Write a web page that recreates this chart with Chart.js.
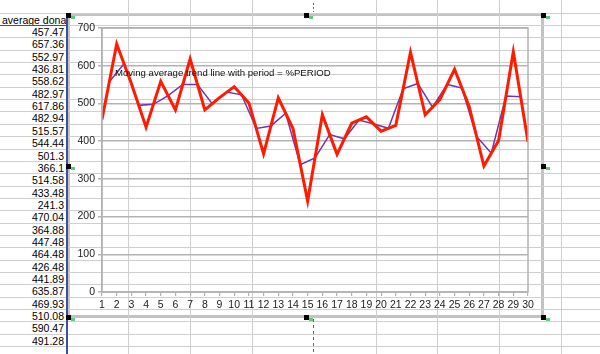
<!DOCTYPE html>
<html>
<head>
<meta charset="utf-8">
<script src="https://cdn.jsdelivr.net/npm/chart.js@4.4.0/dist/chart.umd.min.js"></script>
<style>
  html, body { margin: 0; padding: 0; background: #fff; }
  #sheet { position: relative; width: 600px; height: 354px; overflow: hidden; font-family: "Liberation Sans", Arial, sans-serif; }
  .hl { position: absolute; height: 1px; background: #cfcfcf; }
  .vl { position: absolute; width: 1px; background: #cfcfcf; }
  .cell { position: absolute; left: 0; width: 64px; font-size: 10.5px; text-align: right; color: #000; line-height: 12px; }
  #frame { position: absolute; left: 67px; top: 13px; width: 477px; height: 305px; box-sizing: border-box; border: 3px solid #c2c2c2; background: #fff; }
  #chart { position: absolute; left: 0; top: 0; z-index: 2; }
  #note { position: absolute; left: 115px; top: 67px; font-size: 9.6px; color: #111; z-index: 3; white-space: nowrap; }
  .hd { position: absolute; width: 5px; height: 5px; background: #000; z-index: 4; }
  .gr { position: absolute; width: 4px; height: 3px; background: #62c985; z-index: 4; }
</style>
</head>
<body>
<div id="sheet">
  <canvas id="chart" width="600" height="354"></canvas>
  <div id="note">Moving average trend line with period = %PERIOD</div>
</div>
<script>
// x categories
const periods = [1, 2, 3, 4, 5, 6, 7, 8, 9, 10, 11, 12, 13, 14, 15, 16, 17, 18, 19, 20, 21, 22, 23, 24, 25, 26, 27, 28, 29, 30];
// average donation per period
const donations = [457.47, 657.36, 552.97, 436.81, 558.62, 482.97, 617.86, 482.94, 515.57, 544.44,
                   501.3, 366.1, 514.58, 433.48, 241.3, 470.04, 364.88, 447.48, 464.48, 426.48,
                   441.89, 635.87, 469.93, 510.08, 590.47, 491.28, 334, 402, 637, 398];
const yTicks = [0, 100, 200, 300, 400, 500, 600, 700];
const headerText = 'average donations';
const trendPeriod = 2;

const sheet = document.getElementById('sheet');

function addDiv(cls, css, text) {
    const d = document.createElement('div');
    d.className = cls;
    Object.assign(d.style, css);
    if (text !== undefined) d.textContent = text;
    sheet.appendChild(d);
    return d;
}

// spreadsheet rows and columns behind the chart
for (let k = -1; k <= 26; k++) {
    const y = Math.round(25 + 12.35 * k);
    addDiv('hl', { left: '0px', top: y + 'px', width: '600px' });
}
[128, 190, 252, 376, 437, 499, 561].forEach(function(x) {
    addDiv('vl', { left: x + 'px', top: '0px', height: '354px' });
});
// page break marks
addDiv('vl', { left: '313px', top: '3px', height: '9px', background: 'repeating-linear-gradient(#666 0 2px, transparent 2px 4px)' });
addDiv('vl', { left: '313px', top: '319px', height: '35px', background: 'repeating-linear-gradient(#666 0 3px, transparent 3px 6px)' });

// column with the data
addDiv('cell', { top: '14px', textAlign: 'left', left: '2px', width: '64px', overflow: 'hidden', whiteSpace: 'nowrap', background: '#fff' }, headerText);
addDiv('hl', { left: '0px', top: '25px', width: '67px', background: '#3b4f9c' });
donations.slice(0, 26).forEach(function(v, i) {
    const top = Math.round(25 + 12.35 * i + 1);
    addDiv('cell', { top: top + 'px' }, String(v));
});
addDiv('vl', { left: '66px', top: '13px', height: '341px', width: '2px', background: '#3b4f9c' });

// chart object frame
const frame = addDiv('', {});
frame.id = 'frame';
sheet.insertBefore(frame, document.getElementById('chart'));

// selection handles
[[68, 15], [306, 15], [543, 15], [68, 166], [543, 166], [68, 317], [306, 317], [543, 317]].forEach(function(p) {
    addDiv('hd', { left: (p[0] - 2) + 'px', top: (p[1] - 2) + 'px' });
    addDiv('gr', { left: (p[0] + 3) + 'px', top: (p[1] + 1) + 'px' });
});

// moving average (trend line), drawn between categories
const movingAvg = [];
for (let i = trendPeriod - 1; i < donations.length; i++) {
    let s = 0;
    for (let j = 0; j < trendPeriod; j++) s += donations[i - j];
    movingAvg.push({ x: periods[i] - (trendPeriod - 1) / 2, y: s / trendPeriod });
}

const plotBorder = {
    id: 'plotBorder',
    afterDraw(chart) {
        const a = chart.chartArea, c = chart.ctx;
        c.save();
        c.strokeStyle = '#b3b3b3';
        c.lineWidth = 1.5;
        c.strokeRect(a.left, a.top, a.right - a.left, a.bottom - a.top);
        c.restore();
    }
};

const ctx = document.getElementById('chart').getContext('2d');
new Chart(ctx, {
    type: 'line',
    data: {
        datasets: [
            {
                label: 'trend',
                data: movingAvg,
                borderColor: '#6c36b0',
                borderWidth: 1.5,
                pointRadius: 0,
                tension: 0,
                order: 1
            },
            {
                label: 'average donations',
                data: periods.map((p, i) => ({ x: p, y: donations[i] })),
                borderColor: '#ff1a00',
                borderWidth: 3,
                pointRadius: 0,
                tension: 0,
                order: 0
            }
        ]
    },
    options: {
        responsive: false,
        animation: false,
        events: [],
        layout: { padding: { left: 72, right: 72, top: 28, bottom: 44 } },
        plugins: { legend: { display: false }, tooltip: { enabled: false } },
        scales: {
            x: {
                type: 'linear',
                min: 1,
                max: 30,
                afterFit: s => { s.height = 18; },
                afterBuildTicks: s => { s.ticks = periods.map(v => ({ value: v })); },
                ticks: { color: '#222', font: { family: 'Liberation Sans', size: 10.5 }, padding: 3, maxRotation: 0, autoSkip: false,
                         callback: v => String(v) },
                grid: { drawOnChartArea: false, tickLength: 4, color: '#b3b3b3', lineWidth: 1.2 },
                border: { color: '#b3b3b3', width: 1.5 }
            },
            y: {
                min: 0,
                max: 700,
                afterFit: s => { s.width = 30; },
                afterBuildTicks: s => { s.ticks = yTicks.map(v => ({ value: v })); },
                ticks: { color: '#222', font: { family: 'Liberation Sans', size: 10.5 }, padding: 3 },
                grid: { color: '#b3b3b3', lineWidth: 1.5, tickLength: 4 },
                border: { color: '#b3b3b3', width: 1.5 }
            }
        }
    },
    plugins: [plotBorder]
});
</script>
</body>
</html>
